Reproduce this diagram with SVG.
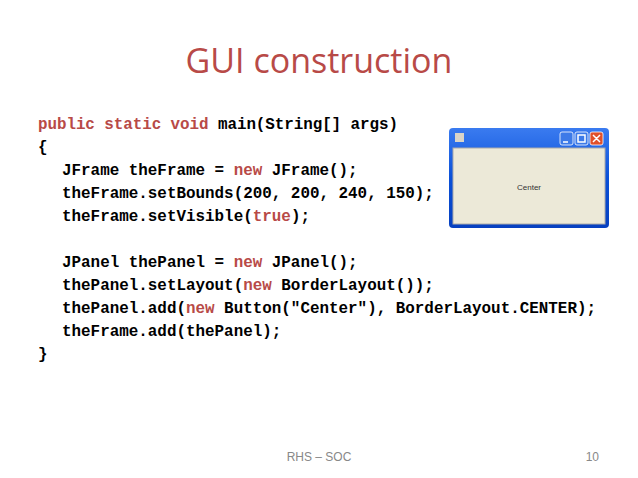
<svg xmlns="http://www.w3.org/2000/svg" width="638" height="478" viewBox="0 0 638 478">
<style>
.c{font-family:"Liberation Mono",monospace;font-weight:bold;font-size:15.9px;fill:#000;white-space:pre}
.k{fill:#b84a47}
.f{font-family:"Liberation Sans",sans-serif;font-size:12px;fill:#888}
</style>
<rect width="638" height="478" fill="#fff"/>
<text x="319" y="73" text-anchor="middle" font-family="Open Sans, sans-serif" font-size="34" fill="#b84a47">GUI construction</text>
<g id="code">
<text class="c" x="38" y="129" textLength="360" lengthAdjust="spacing"><tspan class="k">public static void</tspan> main(String[] args)</text>
<text class="c" x="38" y="152">{</text>
<text class="c" x="62" y="175">JFrame theFrame = <tspan class="k">new</tspan> JFrame();</text>
<text class="c" x="62" y="198">theFrame.setBounds(200, 200, 240, 150);</text>
<text class="c" x="62" y="221">theFrame.setVisible(<tspan class="k">true</tspan>);</text>
<text class="c" x="62" y="267">JPanel thePanel = <tspan class="k">new</tspan> JPanel();</text>
<text class="c" x="62" y="290">thePanel.setLayout(<tspan class="k">new</tspan> BorderLayout());</text>
<text class="c" x="62" y="313">thePanel.add(<tspan class="k">new</tspan> Button("Center"), BorderLayout.CENTER);</text>
<text class="c" x="62" y="336">theFrame.add(thePanel);</text>
<text class="c" x="38" y="359">}</text>
</g>
<g id="window">
<defs><linearGradient id="tb" x1="0" y1="0" x2="0" y2="1"><stop offset="0" stop-color="#3a7bf0"/><stop offset="0.5" stop-color="#0a50d8"/><stop offset="1" stop-color="#0640c0"/></linearGradient></defs>
<rect x="449" y="128" width="160" height="100" rx="4" fill="url(#tb)"/>
<rect x="453" y="148" width="152" height="76" fill="#ece9d8" stroke="#aaa" stroke-width="1"/>
<rect x="455" y="133" width="9" height="9" fill="#d9d4c8"/>
<rect x="560" y="132" width="13" height="13" rx="2" fill="#3d7ae8" stroke="#fff" stroke-width="0.8"/>
<rect x="575" y="132" width="13" height="13" rx="2" fill="#3d7ae8" stroke="#fff" stroke-width="0.8"/>
<rect x="590" y="132" width="13" height="13" rx="2" fill="#e0502a" stroke="#fff" stroke-width="0.8"/>
<path d="M563 142h5M578 135h7v7h-7zM593 135l7 7M600 135l-7 7" stroke="#fff" stroke-width="1.5" fill="none"/>
<text x="529" y="190" text-anchor="middle" font-family="Liberation Sans, sans-serif" font-size="8" fill="#333">Center</text>
</g>
<text class="f" x="319" y="461" text-anchor="middle">RHS – SOC</text>
<text class="f" x="599" y="461" text-anchor="end">10</text>
</svg>
